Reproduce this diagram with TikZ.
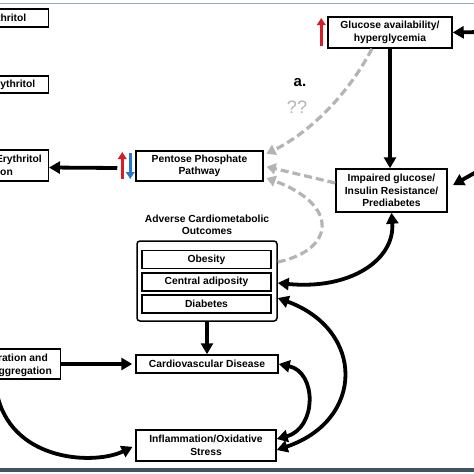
\documentclass[tikz,border=0pt]{standalone}
\usepackage{fontspec}
\setmainfont{Liberation Sans}
\usepackage{xcolor}
\usepackage{tikz}
\definecolor{DashGray}{RGB}{180,180,180}
\definecolor{UpRed}{RGB}{214,30,38}
\definecolor{DownBlue}{RGB}{40,120,200}
\definecolor{FrameTop}{RGB}{150,170,192}
\definecolor{FrameBot}{RGB}{66,82,102}
\usetikzlibrary{arrows.meta,positioning}

\begin{document}
\begin{tikzpicture}[x=1pt, y=-1pt,
    box/.style={draw, line width=1.5pt, inner sep=0pt, align=center, font=\bfseries\fontsize{10.3}{12.5}\selectfont},
    txt/.style={inner sep=0pt, font=\bfseries\fontsize{10.3}{12.5}\selectfont},
    blk/.style={line width=3.8pt, -{Triangle[length=11pt,width=12pt]}},
    dblk/.style={line width=3.8pt, {Triangle[length=11pt,width=12pt]}-{Triangle[length=11pt,width=12pt]}},
    gry/.style={DashGray, line width=3.2pt, dash pattern=on 8pt off 4pt, shorten >=3pt, -{Triangle[length=9pt,width=11pt]}},
    updown/.style={line width=3pt, -{Triangle[length=7pt,width=8.5pt]}}]
\useasboundingbox (0,0) rectangle (474,474);

%draw the frame lines
\draw[FrameTop, line width=1pt] (0,3) -- (474,3);
\fill[FrameBot] (0,468) rectangle (474,471.5);

%boxes cut by the left edge
\node[box, anchor=east, minimum height=18pt, inner xsep=22pt] (ery1) at (49,18) {thritol};
\node[box, anchor=east, minimum height=17pt, inner xsep=13pt] (ery2) at (49,84.5) {rythritol};
\node[box, anchor=east, minimum width=80pt, minimum height=31pt] (ery3) at (49,165.5) {};
\node[txt, anchor=east] (ery3a) at (42,160) {Erythritol};
\node[txt, anchor=east] (ery3b) at (13,172.5) {on};
\node[box, anchor=east, minimum width=90pt, minimum height=30pt] (plt) at (61,364) {};
\node[txt, anchor=east] (plta) at (48,358) {ration and};
\node[txt, anchor=east] (pltb) at (52,371.5) {ggregation};

%main boxes
\node[box, minimum width=124pt, minimum height=31pt] (gluc) at (390,32.5) {Glucose availability/\\hyperglycemia};
\node[box, minimum width=111pt, minimum height=43pt] (impair) at (391.5,190.5) {Impaired glucose/\\Insulin Resistance/\\Prediabetes};
\node[box, minimum width=127pt, minimum height=30pt] (ppp) at (199.5,166) {Pentose Phosphate\\Pathway};
\node[box, rounded corners=3pt, minimum width=140pt, minimum height=80pt] (acm) at (207,281) {};
\node[txt, align=center, above=5pt of acm] (acmtitle) {Adverse Cardiometabolic\\Outcomes};
\foreach \y/\t [count=\c] in {259.5/Obesity, 282/Central adiposity, 304/Diabetes}{
    \node[box, minimum width=129pt, minimum height=18pt] (o\c) at (206.5,\y) {\t};
}
\node[box, minimum width=142pt, minimum height=18pt] (cvd) at (207,364) {Cardiovascular Disease};
\node[box, minimum width=140pt, minimum height=31pt] (inflam) at (206,445.5) {Inflammation/Oxidative\\Stress};

%labels
\node[font=\bfseries\fontsize{15}{15}\selectfont] (lbla) at (300,83) {a.};
\node[DashGray, font=\fontsize{18}{18}\selectfont] (lblq) at (297,107) {??};

%up and down markers
\draw[updown, UpRed] ([xshift=-13pt,yshift=-13pt]ppp.west) -- ([xshift=-13pt,yshift=14pt]ppp.west);
\draw[updown, DownBlue] ([xshift=-5pt,yshift=13pt]ppp.west) -- ([xshift=-5pt,yshift=-13pt]ppp.west);
\draw[updown, UpRed] ([xshift=-6pt,yshift=-13.5pt]gluc.west) -- ([xshift=-6pt,yshift=14.5pt]gluc.west);

%free ends off the page
\coordinate (ginR) at (480,32);
\coordinate (iinR) at (478,171);
\coordinate (linL) at (-2,398);

%black connectors
\draw[blk] ([xshift=-18pt,yshift=-2pt]ppp.west) -- ([yshift=-2pt]ery3.east);
\draw[blk] (gluc.south) -- (gluc.south |- impair.north);
\draw[blk] (ginR) -- (gluc.east);
\draw[blk, shorten >=6pt] (iinR) -- ([yshift=2.5pt]impair.east);
\draw[blk] (acm.south) -- (cvd.north);
\draw[blk, shorten >=3pt] (plt.east) -- (cvd.west);
\draw[blk, shorten >=3pt] (linL) .. controls (15,462) and (95,465) .. (inflam.west);
\draw[dblk] (cvd.east) .. controls (317,372) and (317,428) .. ([yshift=6.5pt]inflam.east);
\draw[dblk] ([yshift=-2pt]acm.east) .. controls (350,290) and (395,260) .. (impair.south);
\draw[dblk] ([yshift=-17pt]acm.east) .. controls (365,330) and (365,420) .. ([yshift=-4.5pt]inflam.east);

%gray dashed connectors
\draw[gry] ([xshift=-18pt]gluc.south) .. controls (345,100) and (305,135) .. ([yshift=11pt]ppp.east);
\draw[gry] ([yshift=7.5pt]impair.west) -- (ppp.east);
\draw[gry] ([yshift=19pt]acm.east) .. controls (335,250) and (340,205) .. ([yshift=-11pt]ppp.east);
\end{tikzpicture}
\end{document}
